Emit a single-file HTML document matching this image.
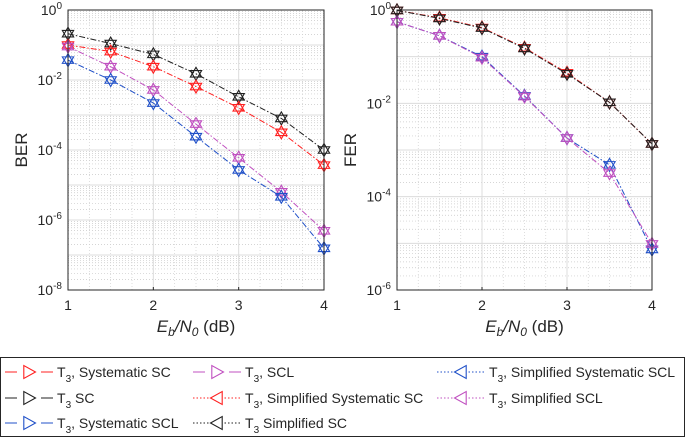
<!DOCTYPE html>
<html><head><meta charset="utf-8"><style>
html,body{margin:0;padding:0;background:#fff;}
svg{display:block;font-family:"Liberation Sans",Arial,sans-serif;}
</style></head><body>
<svg id="fig" width="685" height="437" viewBox="0 0 685 437" xmlns="http://www.w3.org/2000/svg">
<g id="left"></g>
<g id="right"></g>
<g id="legend"></g>
</svg>
<script>
const xVals = [1, 1.5, 2, 2.5, 3, 3.5, 4];
const xTicks = [1, 2, 3, 4];
const berSysSC = [0.1, 0.065, 0.024, 0.0065, 0.0016, 3.2e-4, 3.7e-5];
const berSC = [0.21, 0.11, 0.054, 0.015, 0.0033, 8e-4, 1e-4];
const berSysSCL = [0.037, 0.01, 0.0022, 2.4e-4, 2.7e-5, 4.6e-6, 1.55e-7];
const berSCL = [0.09, 0.024, 0.0052, 5.5e-4, 6e-5, 6.4e-6, 4.9e-7];
const ferSysSC = [0.98, 0.68, 0.42, 0.155, 0.045, 0.0105, 1.35e-3];
const ferSC = [0.98, 0.66, 0.41, 0.15, 0.043, 0.0105, 1.35e-3];
const ferSysSCL = [0.56, 0.28, 0.1, 0.0144, 0.0018, 4.8e-4, 7.4e-6];
const ferSCL = [0.56, 0.28, 0.095, 0.014, 0.0018, 3.2e-4, 9.7e-6];
const berYTicks = [0, -2, -4, -6, -8];
const ferYTicks = [0, -2, -4, -6];

const NS = "http://www.w3.org/2000/svg";
function mk(tag, attrs, parent) {
  const e = document.createElementNS(NS, tag);
  for (const k in attrs) e.setAttribute(k, attrs[k]);
  parent.appendChild(e);
  return e;
}
const COL = {red: "#ff2020", black: "#202020", blue: "#2050c8", mag: "#c050c0"};

function marker(g, x, y, c, dir) {
  const s = 6.5;
  let p;
  if (dir > 0) p = `${x - s * 0.8},${y - s} ${x - s * 0.8},${y + s} ${x + s},${y}`;
  else p = `${x + s * 0.8},${y - s} ${x + s * 0.8},${y + s} ${x - s},${y}`;
  const m = mk("polygon", {points: p, fill: "none", stroke: c, "stroke-width": 1.1}, g);
  
  
}
function marker6(g, x, y, c) {
  const s = 6.5;
  mk("polygon", {points: `${x},${y - s} ${x - s * 0.87},${y + s * 0.5} ${x + s * 0.87},${y + s * 0.5}`, fill: "none", stroke: c, "stroke-width": 1.1}, g);
  mk("polygon", {points: `${x},${y + s} ${x - s * 0.87},${y - s * 0.5} ${x + s * 0.87},${y - s * 0.5}`, fill: "none", stroke: c, "stroke-width": 1.1}, g);
}

function chart(g, L, R, T, B, yMinExp, yTicks, label, series) {
  const xs = v => L + (v - 1) / 3 * (R - L);
  const ys = v => T + (0 - Math.log10(v)) / (-yMinExp) * (B - T);
  for (let e = 0; e > yMinExp; e--) {
    for (let k = 2; k <= 9; k++) {
      const y = ys(Math.pow(10, e - 1) * k);
      mk("line", {x1: L, x2: R, y1: y, y2: y, stroke: "#c8c8c8", "stroke-width": 0.7, "stroke-dasharray": "1,2"}, g);
    }
  }
  for (let v = 1.25; v < 4; v += 0.25) {
    if (Math.abs(v - Math.round(v)) < 0.01) continue;
    const x = xs(v);
    mk("line", {x1: x, x2: x, y1: T, y2: B, stroke: "#d0d0d0", "stroke-width": 0.7, "stroke-dasharray": "1,2"}, g);
  }
  for (let e = 0; e >= yMinExp; e--) {
    const y = ys(Math.pow(10, e));
    mk("line", {x1: L, x2: R, y1: y, y2: y, stroke: "#dcdcdc", "stroke-width": 1}, g);
  }
  xTicks.forEach(v => mk("line", {x1: xs(v), x2: xs(v), y1: T, y2: B, stroke: "#dcdcdc", "stroke-width": 1}, g));
  series.forEach(s => {
    const sg = mk("g", {}, g);
    
    
    const pts = s.data.map((v, i) => `${xs(xVals[i])},${ys(v)}`).join(" ");
    mk("polyline", {points: pts, fill: "none", stroke: s.c, "stroke-width": 1, "stroke-dasharray": "6,2,1.5,2"}, sg);
    s.data.forEach((v, i) => marker6(sg, xs(xVals[i]), ys(v), s.c));
  });
  mk("rect", {x: L, y: T, width: R - L, height: B - T, fill: "none", stroke: "#262626", "stroke-width": 1}, g);
  xTicks.forEach(v => {
    mk("line", {x1: xs(v), x2: xs(v), y1: B, y2: B - 3, stroke: "#262626"}, g);
    const t = mk("text", {x: xs(v), y: B + 20, "text-anchor": "middle", "font-size": 14, fill: "#262626"}, g);
    t.textContent = v;
    
    
  });
  yTicks.forEach(e => {
    const y = ys(Math.pow(10, e));
    const t = mk("text", {x: L - 6, y: y + 5, "text-anchor": "end", "font-size": 14, fill: "#262626"}, g);
    
    
    t.textContent = "10";
    const sp = mk("tspan", {dy: -6, "font-size": 10}, t);
    sp.textContent = String(e);
  });
  const yl = mk("text", {x: 0, y: 0, transform: `translate(${L - 41},${(T + B) / 2}) rotate(-90)`, "text-anchor": "middle", "font-size": 17, fill: "#262626"}, g);
  
  
  yl.textContent = label;
  const xl = mk("text", {x: (L + R) / 2, y: B + 42, "text-anchor": "middle", "font-size": 17, fill: "#262626"}, g);
  
  
  xl.innerHTML = '<tspan font-style="italic">E</tspan><tspan font-style="italic" font-size="12" dy="4">b</tspan><tspan dy="-4" font-style="italic">/N</tspan><tspan font-style="italic" font-size="12" dy="4">0</tspan><tspan dy="-4"> (dB)</tspan>';
}

chart(document.getElementById("left"), 68, 324, 10, 290, -8, berYTicks, "BER", [
  {name: "series-sc", data: berSC, c: COL.black},
  {name: "series-systematic-sc", data: berSysSC, c: COL.red},
  {name: "series-scl", data: berSCL, c: COL.mag},
  {name: "series-systematic-scl", data: berSysSCL, c: COL.blue}
]);
chart(document.getElementById("right"), 397, 652, 10, 290, -6, ferYTicks, "FER", [
  {name: "series-systematic-sc", data: ferSysSC, c: COL.red},
  {name: "series-sc", data: ferSC, c: COL.black},
  {name: "series-systematic-scl", data: ferSysSCL, c: COL.blue},
  {name: "series-scl", data: ferSCL, c: COL.mag}
]);

const lg = document.getElementById("legend");
mk("rect", {x: 0.5, y: 357.5, width: 684, height: 79, fill: "#fff", stroke: "#262626", "stroke-width": 1}, lg);
const entries = [
  [0, 0, COL.red, 1, ", Systematic SC"],
  [0, 1, COL.black, 1, " SC"],
  [0, 2, COL.blue, 1, ", Systematic SCL"],
  [1, 0, COL.mag, 1, ", SCL"],
  [1, 1, COL.red, -1, ", Simplified Systematic SC"],
  [1, 2, COL.black, -1, " Simplified SC"],
  [2, 0, COL.blue, -1, ", Simplified Systematic SCL"],
  [2, 1, COL.mag, -1, ", Simplified SCL"]
];
const colX = [5, 193, 437];
const rowY = [372, 398, 423];
entries.forEach(en => {
  const [ci, ri, c, dir, txt] = en;
  const x = colX[ci], y = rowY[ri];
  const eg = mk("g", {}, lg);
  
  
  if (dir > 0) {
    mk("line", {x1: x, x2: x + 12, y1: y, y2: y, stroke: c, "stroke-width": 1}, eg);
    mk("line", {x1: x + 36, x2: x + 48, y1: y, y2: y, stroke: c, "stroke-width": 1}, eg);
  } else {
    mk("line", {x1: x, x2: x + 48, y1: y, y2: y, stroke: c, "stroke-width": 1, "stroke-dasharray": "1.5,2"}, eg);
    mk("rect", {x: x + 17, y: y - 6, width: 14, height: 12, fill: "#fff"}, eg);
  }
  marker(eg, x + 24, y, c, dir);
  const t = mk("text", {x: x + 52, y: y + 5, "font-size": 14, fill: "#262626"}, eg);
  t.innerHTML = 'T<tspan font-size="10" dy="5">3</tspan><tspan dy="-5">' + txt + '</tspan>';
});
</script>
</body></html>
